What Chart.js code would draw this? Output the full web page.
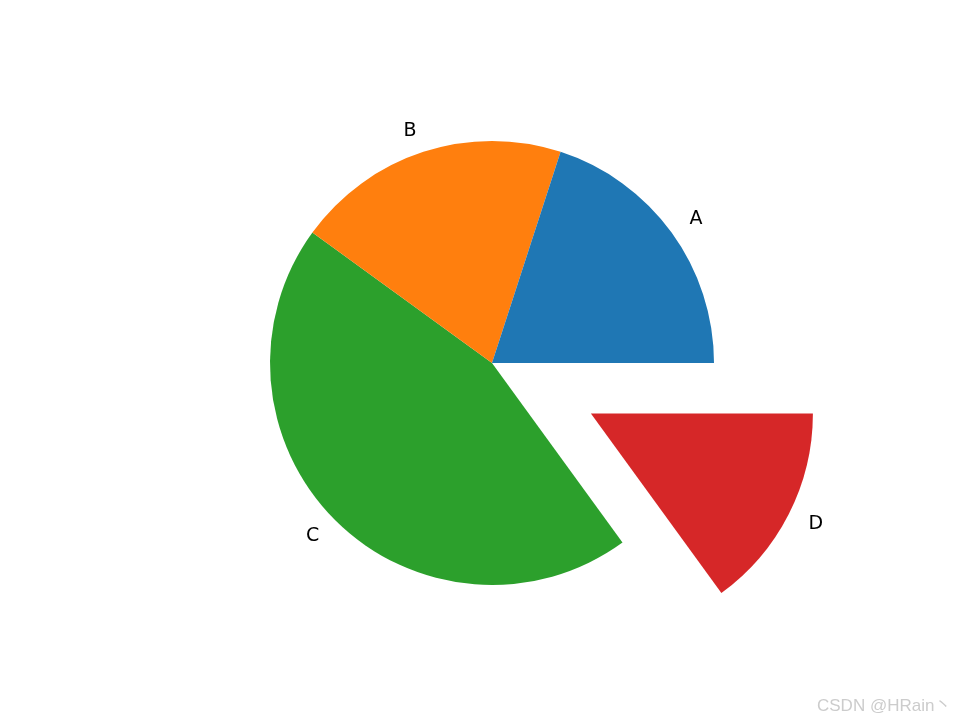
<!DOCTYPE html>
<html>
<head>
<meta charset="utf-8">
<script src="https://cdn.jsdelivr.net/npm/chart.js@4.4.0/dist/chart.umd.min.js"></script>
<style>
    body { margin: 0; background: #fff; }
    #wrap { position: relative; width: 960px; height: 720px; }
    #mark { position: absolute; left: 817px; top: 691px; font-family: "Liberation Sans", "Noto Sans CJK SC", sans-serif; font-size: 17px; color: #cccccc; }
</style>
</head>
<body>
<div id="wrap">
    <canvas id="pie" width="960" height="720"></canvas>
    <div id="mark">CSDN @HRain丶</div>
</div>
<script>
// matplotlib draws counter-clockwise from east, chart.js clockwise -> reversed order
const labels = ["A", "B", "C", "D"];
const sizes = [20, 20, 45, 15];
const colors = ["#1f77b4", "#ff7f0e", "#2ca02c", "#d62728"];
const explode = [0, 0, 0, 0.5];

const radius = 222;
const cx = 492, cy = 363;

const rev = a => a.slice().reverse();
const revExplode = rev(explode);

// chart.js "offset" only moves a quarter and grows the slice, so shift the arc ourselves
function shift(arc, i, sign) {
    const mid = (arc.startAngle + arc.endAngle) / 2;
    const d = revExplode[i] * arc.outerRadius * sign;
    arc.x += Math.cos(mid) * d;
    arc.y += Math.sin(mid) * d;
}

const explodeAndLabel = {
    id: "explodeAndLabel",
    beforeDatasetsDraw(chart) {
        chart.getDatasetMeta(0).data.forEach((arc, i) => shift(arc, i, 1));
    },
    afterDatasetsDraw(chart) {
        const ctx = chart.ctx;
        const meta = chart.getDatasetMeta(0);
        meta.data.forEach((arc, i) => shift(arc, i, -1));
        ctx.save();
        ctx.font = "19px 'DejaVu Sans'";
        ctx.fillStyle = "#000";
        ctx.textBaseline = "middle";
        meta.data.forEach((arc, i) => {
            const mid = (arc.startAngle + arc.endAngle) / 2;
            const r = arc.outerRadius * (1.1 + revExplode[i]);
            const x = arc.x + Math.cos(mid) * r;
            const y = arc.y + Math.sin(mid) * r;
            ctx.textAlign = Math.cos(mid) >= 0 ? "left" : "right";
            ctx.fillText(chart.data.labels[i], x, y);
        });
        ctx.restore();
    }
};

new Chart(
    document.getElementById("pie"),
    {
        type: "pie",
        plugins: [explodeAndLabel],
        options: {
            responsive: false,
            animation: false,
            rotation: 90,
            layout: {
                padding: {
                    left: cx - radius,
                    right: 960 - cx - radius,
                    top: cy - radius,
                    bottom: 720 - cy - radius
                }
            },
            plugins: {
                legend: { display: false },
                tooltip: { enabled: false }
            },
            events: []
        },
        data: {
            labels: rev(labels),
            datasets: [
                {
                    data: rev(sizes),
                    backgroundColor: rev(colors),
                    borderWidth: 0
                }
            ]
        }
    }
);
</script>
</body>
</html>
